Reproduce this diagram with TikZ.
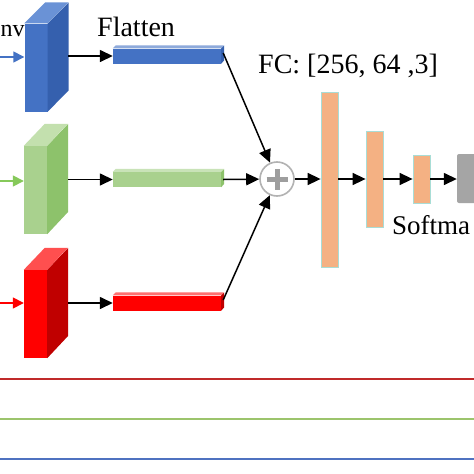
\documentclass[tikz,border=0pt]{standalone}
\usepackage{fontspec}
\setmainfont{Liberation Serif}
\usetikzlibrary{arrows.meta}
\definecolor{bfront}{HTML}{4472C4}
\definecolor{bside}{HTML}{3560AE}
\definecolor{btop}{HTML}{6A92D6}
\definecolor{bbartop}{HTML}{8EAADB}
\definecolor{gfront}{HTML}{A9D18E}
\definecolor{gside}{HTML}{8DC26B}
\definecolor{gtop}{HTML}{C3E0AE}
\definecolor{gbartop}{HTML}{C9E3B8}
\definecolor{garrow}{HTML}{86C95A}
\definecolor{rfront}{HTML}{FF0000}
\definecolor{rside}{HTML}{C00000}
\definecolor{rtop}{HTML}{FF4F4F}
\definecolor{rbartop}{HTML}{FF7070}
\definecolor{fcfill}{HTML}{F4B183}
\definecolor{fcline}{HTML}{A8DDD6}
\definecolor{smfill}{HTML}{A5A5A5}
\definecolor{lred}{HTML}{C02A2A}
\definecolor{lgreen}{HTML}{9CC46C}
\definecolor{lblue}{HTML}{4F72C0}
\begin{document}
\begin{tikzpicture}[x=1pt,y=-1pt,
  blockfront/.style={rectangle, inner sep=0pt, minimum width=23pt, minimum height=88pt},
  flatbar/.style={rectangle, inner sep=0pt, minimum width=108pt, minimum height=15pt},
  fcbar/.style={rectangle, inner sep=0pt, minimum width=17pt, fill=fcfill, draw=fcline, line width=0.8pt},
  arr/.style={line width=1.5pt, -{Triangle[length=13pt,width=12pt]}},
  inarr/.style={line width=1.5pt, -{Triangle[length=11pt,width=11pt]}},
  lbl/.style={font=\fontsize{28}{32}\selectfont, inner sep=0pt},
  botline/.style={line width=2.4pt}
]
\useasboundingbox (0,0) rectangle (474,474);
\clip (0,0) rectangle (474,474);
\fill[white] (0,0) rectangle (474,474);

% bottom lines
\draw[botline, lred] (0,379) -- (474,379);
\draw[botline, lgreen] (0,419) -- (474,419);
\draw[botline, lblue] (0,459) -- (474,459);

% conv blocks
\node[blockfront, fill=bfront] (c1) at (36,67.5) {};
\fill[bside] (c1.north east) -- ++(21,-21) -- ++(0,88) -- (c1.south east) -- cycle;
\fill[btop] (c1.north west) -- ++(21,-21) -- ++(23,0) -- (c1.north east) -- cycle;

\node[blockfront, fill=gfront] (c2) at (35.5,190) {};
\fill[gside] (c2.north east) -- ++(21,-22) -- ++(0,88) -- (c2.south east) -- cycle;
\fill[gtop] (c2.north west) -- ++(21,-22) -- ++(23,0) -- (c2.north east) -- cycle;

\node[blockfront, fill=rfront] (c3) at (35.5,314) {};
\fill[rside] (c3.north east) -- ++(21,-22) -- ++(0,88) -- (c3.south east) -- cycle;
\fill[rtop] (c3.north west) -- ++(21,-22) -- ++(23,0) -- (c3.north east) -- cycle;

% input arrows
\coordinate (in1) at (0,57);
\coordinate (in2) at (0,181);
\coordinate (in3) at (0,303);
\draw[inarr, bfront] (in1) -- (in1 -| c1.west);
\draw[inarr, garrow] (in2) -- (in2 -| c2.west);
\draw[inarr, rfront] (in3) -- (in3 -| c3.west);

% flatten bars
\node[flatbar, fill=bfront] (f1) at (167,56) {};
\fill[bbartop] (f1.north west) -- ++(3,-3) -- ++(108,0) -- (f1.north east) -- cycle;
\fill[bside] (f1.north east) -- ++(3,-3) -- ++(0,15) -- (f1.south east) -- cycle;

\node[flatbar, fill=gfront] (f2) at (167,179.5) {};
\fill[gbartop] (f2.north west) -- ++(3,-3) -- ++(108,0) -- (f2.north east) -- cycle;
\fill[gside] (f2.north east) -- ++(3,-3) -- ++(0,15) -- (f2.south east) -- cycle;

\node[flatbar, fill=rfront] (f3) at (167,303) {};
\fill[rbartop] (f3.north west) -- ++(3,-3) -- ++(108,0) -- (f3.north east) -- cycle;
\fill[rside] (f3.north east) -- ++(3,-3) -- ++(0,15) -- (f3.south east) -- cycle;

% block -> flatten arrows
\coordinate (o1) at (68,56);
\coordinate (o2) at (68,179.5);
\coordinate (o3) at (68,303);
\draw[arr] (o1) -- (f1.west);
\draw[arr] (o2) -- (f2.west);
\draw[arr] (o3) -- (f3.west);

% sum node
\node[circle, minimum size=34pt, inner sep=0pt, draw=black!30, line width=1.6pt, fill=white] (sum) at (277,179) {};
\draw[line width=5pt, black!38] ([xshift=-10.5pt]sum.center) -- ([xshift=10.5pt]sum.center);
\draw[line width=5pt, black!38] ([yshift=-10.5pt]sum.center) -- ([yshift=10.5pt]sum.center);

\draw[arr] ([xshift=2pt,yshift=3pt]f1.east) -- (sum);
\draw[arr] ([xshift=2pt]f2.east) -- (sum);
\draw[arr] ([xshift=2pt,yshift=3pt]f3.east) -- (sum);

% FC bars
\node[fcbar, minimum height=175pt] (fc1) at (329.5,179.5) {};
\node[fcbar, minimum height=96pt] (fc2) at (374.5,179) {};
\node[fcbar, minimum height=48pt] (fc3) at (421.5,179) {};
\node[rectangle, inner sep=0pt, minimum width=36pt, minimum height=49pt, fill=smfill, rounded corners=2pt] (sm) at (475,178.5) {};

\draw[arr] (sum.east) -- (sum.east -| fc1.west);
\draw[arr] (fc1.east |- sum.east) -- (sum.east -| fc2.west);
\draw[arr] (fc2.east |- sum.east) -- (sum.east -| fc3.west);
\draw[arr] (fc3.east |- sum.east) -- (sum.east -| sm.west);

% labels
\node[lbl, font=\fontsize{24}{28}\selectfont, anchor=base west] (tconv) at (0.5,36) {nv};
\node[lbl, anchor=base west] (tflat) at (97,36) {Flatten};
\node[lbl, anchor=base west] (tfc) at (258,73) {FC: [256, 64 ,3]};
\node[lbl, font=\fontsize{27}{31}\selectfont, anchor=base west] (tsm) at (392,234) {Softma};
\end{tikzpicture}
\end{document}
